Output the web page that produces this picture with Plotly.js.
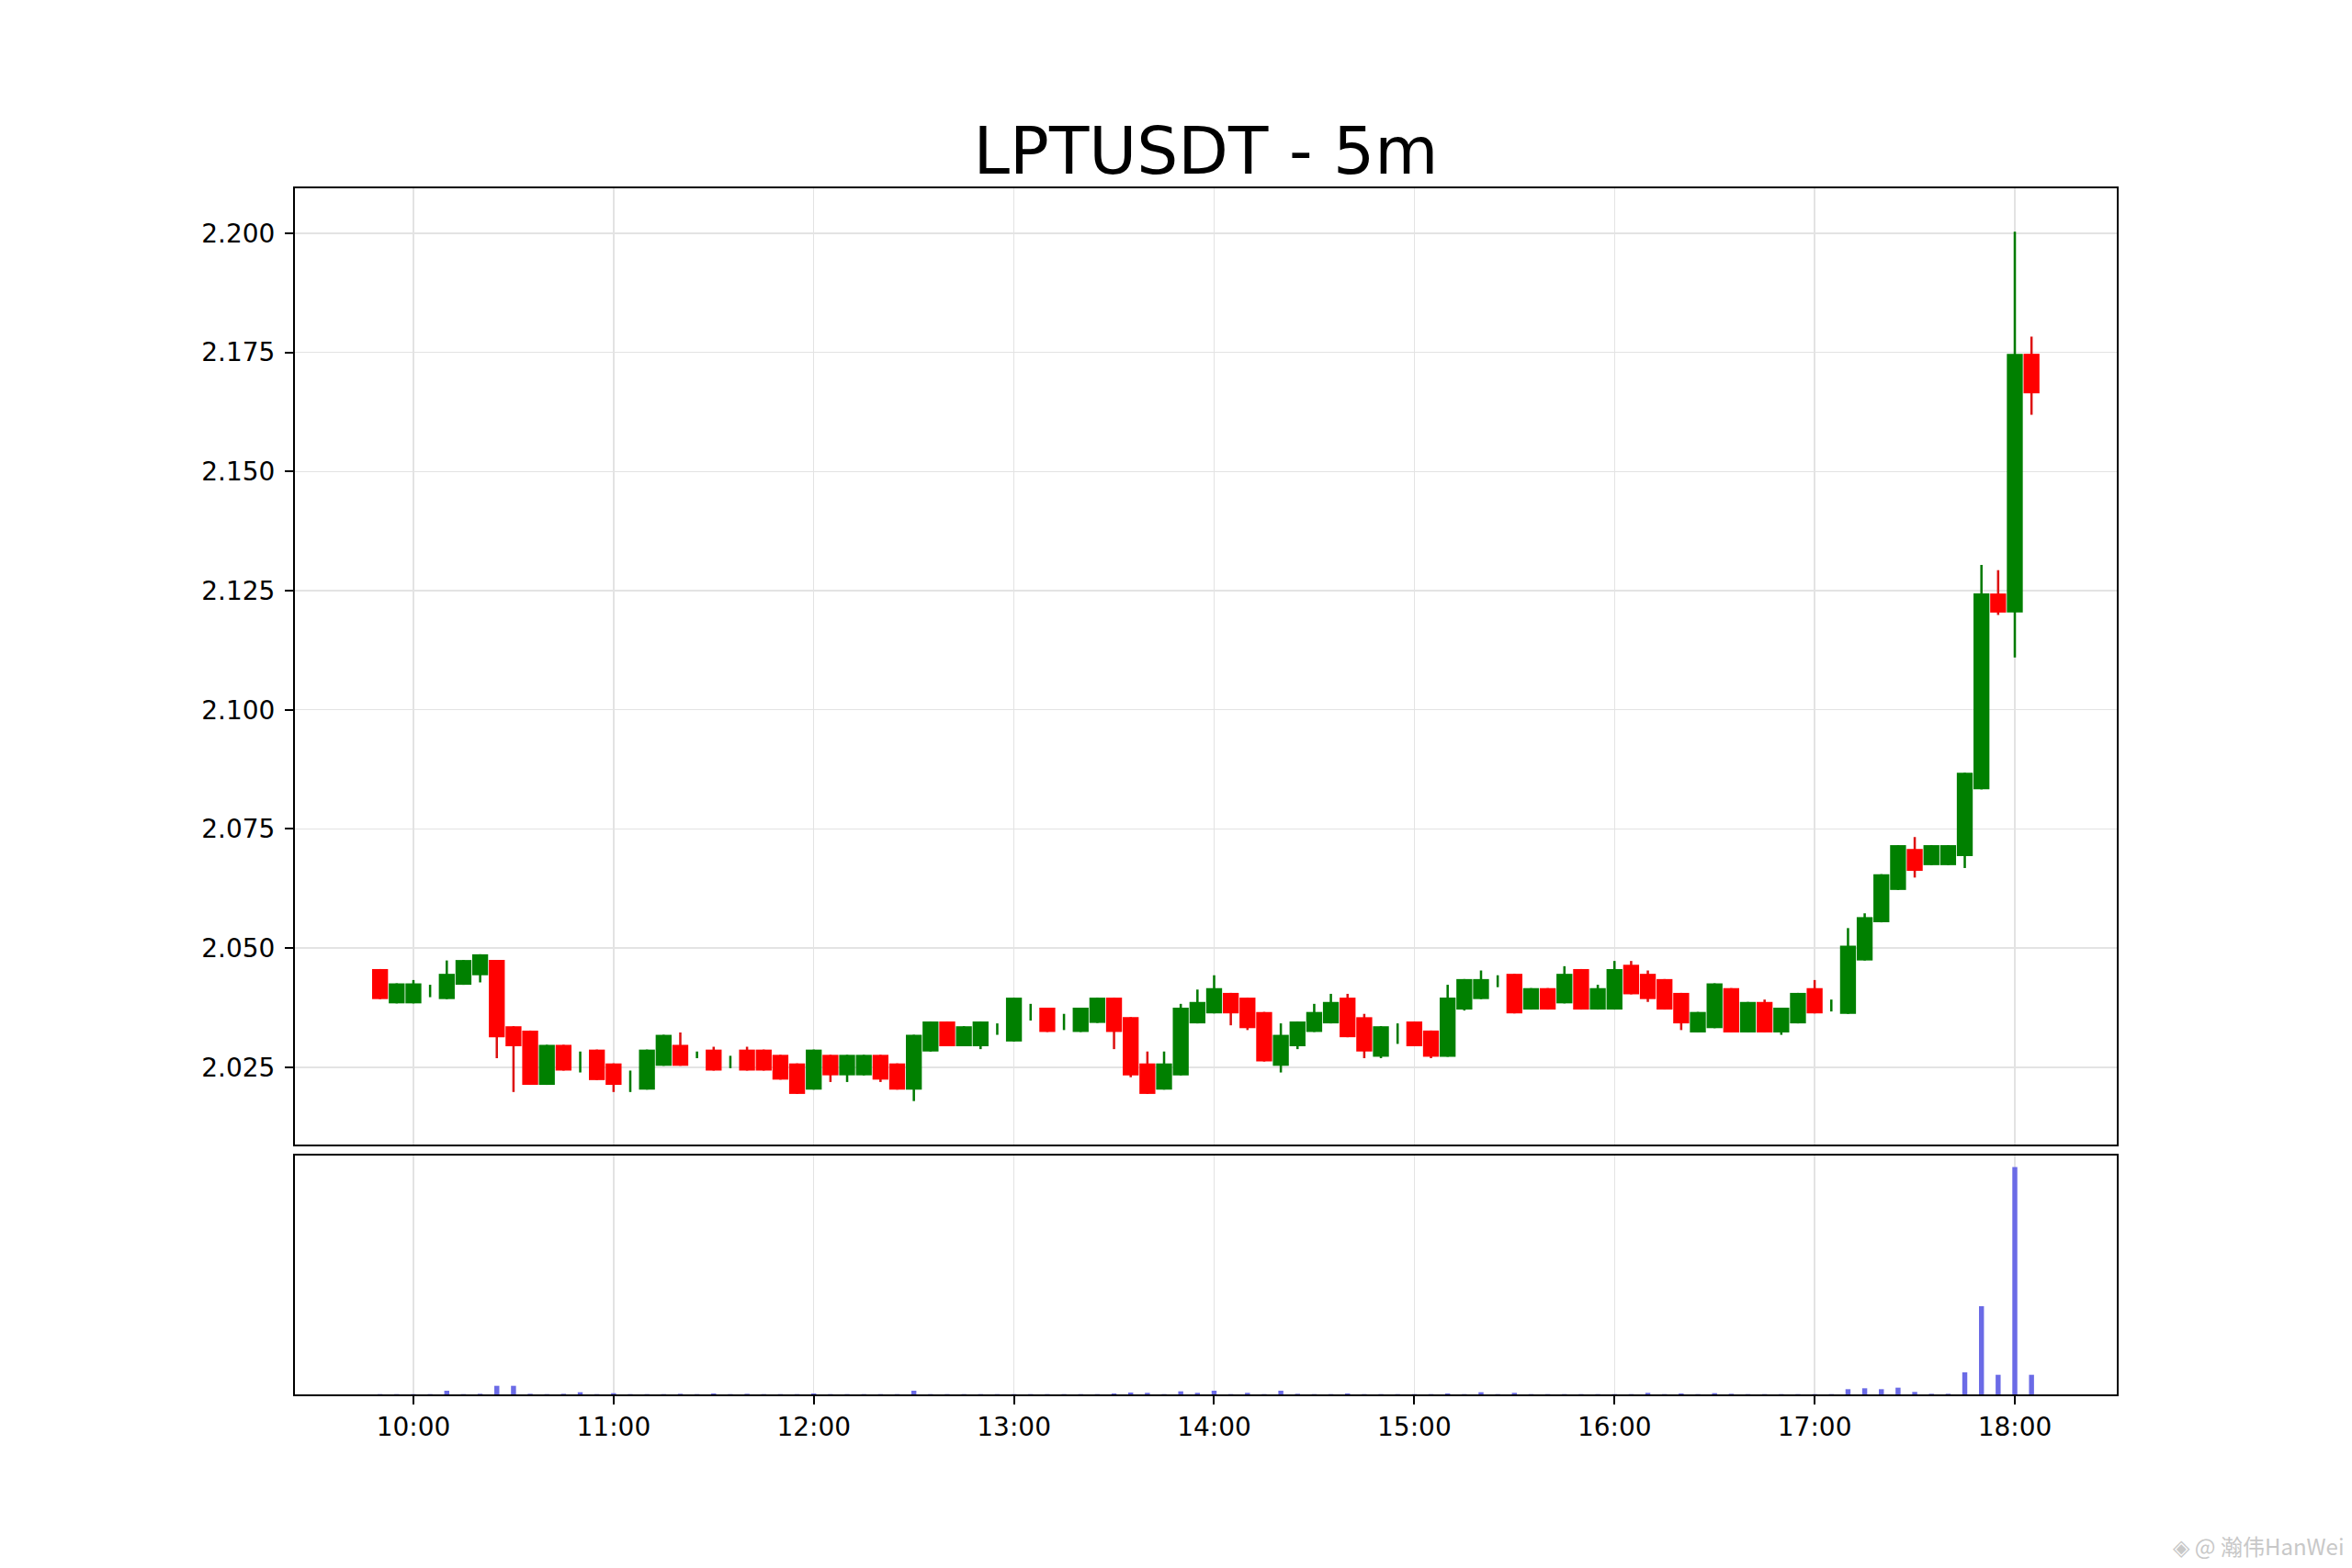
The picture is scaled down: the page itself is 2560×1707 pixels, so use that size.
<!DOCTYPE html>
<html>
<head>
<meta charset="utf-8">
<script src="https://cdn.plot.ly/plotly-3.0.1.min.js"></script>
<style>
  html, body { margin: 0; padding: 0; background: #fff; }
  #chart { width: 2560px; height: 1707px; }
</style>
</head>
<body>
<div id="chart"></div>
<script>
// 5m candles
const times = [
  "09:50", "09:55", "10:00", "10:05", "10:10", "10:15", "10:20", "10:25", "10:30", "10:35",
  "10:40", "10:45", "10:50", "10:55", "11:00", "11:05", "11:10", "11:15", "11:20", "11:25",
  "11:30", "11:35", "11:40", "11:45", "11:50", "11:55", "12:00", "12:05", "12:10", "12:15",
  "12:20", "12:25", "12:30", "12:35", "12:40", "12:45", "12:50", "12:55", "13:00", "13:05",
  "13:10", "13:15", "13:20", "13:25", "13:30", "13:35", "13:40", "13:45", "13:50", "13:55",
  "14:00", "14:05", "14:10", "14:15", "14:20", "14:25", "14:30", "14:35", "14:40", "14:45",
  "14:50", "14:55", "15:00", "15:05", "15:10", "15:15", "15:20", "15:25", "15:30", "15:35",
  "15:40", "15:45", "15:50", "15:55", "16:00", "16:05", "16:10", "16:15", "16:20", "16:25",
  "16:30", "16:35", "16:40", "16:45", "16:50", "16:55", "17:00", "17:05", "17:10", "17:15",
  "17:20", "17:25", "17:30", "17:35", "17:40", "17:45", "17:50", "17:55", "18:00", "18:05"
];

const opens = [
  2.0456, 2.0384, 2.0384, 2.0410, 2.0393, 2.0423, 2.0443, 2.0475, 2.0336, 2.0327,
  2.0213, 2.0297, 2.0260, 2.0287, 2.0258, 2.0220, 2.0203, 2.0253, 2.0297, 2.0275,
  2.0287, 2.0260, 2.0287, 2.0287, 2.0276, 2.0258, 2.0203, 2.0276, 2.0233, 2.0233,
  2.0276, 2.0258, 2.0203, 2.0283, 2.0346, 2.0294, 2.0294, 2.0330, 2.0304, 2.0365,
  2.0375, 2.0345, 2.0324, 2.0343, 2.0396, 2.0355, 2.0258, 2.0203, 2.0233, 2.0342,
  2.0363, 2.0406, 2.0396, 2.0366, 2.0253, 2.0294, 2.0324, 2.0342, 2.0396, 2.0355,
  2.0272, 2.0320, 2.0346, 2.0327, 2.0272, 2.0371, 2.0393, 2.0430, 2.0446, 2.0371,
  2.0416, 2.0384, 2.0456, 2.0371, 2.0371, 2.0465, 2.0446, 2.0435, 2.0406, 2.0323,
  2.0332, 2.0416, 2.0323, 2.0387, 2.0323, 2.0342, 2.0416, 2.0380, 2.0362, 2.0474,
  2.0554, 2.0622, 2.0708, 2.0674, 2.0674, 2.0693, 2.0833, 2.1244, 2.1204, 2.1747
];

const highs = [
  2.0456, 2.0426, 2.0433, 2.0423, 2.0474, 2.0475, 2.0487, 2.0475, 2.0336, 2.0327,
  2.0297, 2.0297, 2.0283, 2.0287, 2.0258, 2.0243, 2.0287, 2.0318, 2.0323, 2.0283,
  2.0293, 2.0274, 2.0293, 2.0287, 2.0276, 2.0258, 2.0287, 2.0276, 2.0276, 2.0276,
  2.0276, 2.0258, 2.0318, 2.0346, 2.0346, 2.0336, 2.0346, 2.0342, 2.0396, 2.0383,
  2.0375, 2.0362, 2.0375, 2.0396, 2.0396, 2.0355, 2.0283, 2.0283, 2.0383, 2.0413,
  2.0443, 2.0406, 2.0396, 2.0366, 2.0342, 2.0346, 2.0383, 2.0404, 2.0404, 2.0362,
  2.0336, 2.0342, 2.0346, 2.0327, 2.0423, 2.0435, 2.0453, 2.0443, 2.0446, 2.0416,
  2.0416, 2.0462, 2.0456, 2.0423, 2.0473, 2.0473, 2.0453, 2.0435, 2.0406, 2.0366,
  2.0426, 2.0416, 2.0387, 2.0392, 2.0375, 2.0406, 2.0433, 2.0392, 2.0542, 2.0573,
  2.0655, 2.0716, 2.0733, 2.0716, 2.0716, 2.0868, 2.1304, 2.1293, 2.2003, 2.1783
];

const lows = [
  2.0393, 2.0384, 2.0384, 2.0397, 2.0393, 2.0423, 2.0428, 2.0269, 2.0198, 2.0213,
  2.0213, 2.0243, 2.0239, 2.0223, 2.0198, 2.0198, 2.0203, 2.0253, 2.0253, 2.0269,
  2.0243, 2.0248, 2.0243, 2.0243, 2.0224, 2.0194, 2.0203, 2.0219, 2.0219, 2.0233,
  2.0219, 2.0203, 2.0179, 2.0283, 2.0294, 2.0294, 2.0288, 2.0318, 2.0304, 2.0348,
  2.0324, 2.0328, 2.0324, 2.0343, 2.0288, 2.0229, 2.0194, 2.0203, 2.0233, 2.0342,
  2.0363, 2.0338, 2.0328, 2.0262, 2.0239, 2.0288, 2.0324, 2.0342, 2.0313, 2.0269,
  2.0269, 2.0299, 2.0294, 2.0269, 2.0272, 2.0369, 2.0393, 2.0418, 2.0363, 2.0371,
  2.0371, 2.0384, 2.0371, 2.0371, 2.0371, 2.0403, 2.0387, 2.0371, 2.0328, 2.0323,
  2.0332, 2.0323, 2.0323, 2.0323, 2.0318, 2.0342, 2.0363, 2.0367, 2.0362, 2.0474,
  2.0554, 2.0622, 2.0648, 2.0674, 2.0674, 2.0668, 2.0833, 2.1199, 2.1110, 2.1619
];

const closes = [
  2.0393, 2.0426, 2.0426, 2.0410, 2.0446, 2.0475, 2.0487, 2.0313, 2.0294, 2.0213,
  2.0297, 2.0243, 2.0260, 2.0223, 2.0213, 2.0220, 2.0287, 2.0318, 2.0253, 2.0275,
  2.0243, 2.0260, 2.0243, 2.0243, 2.0224, 2.0194, 2.0287, 2.0233, 2.0276, 2.0276,
  2.0224, 2.0203, 2.0318, 2.0346, 2.0294, 2.0336, 2.0346, 2.0330, 2.0396, 2.0365,
  2.0324, 2.0345, 2.0375, 2.0396, 2.0324, 2.0233, 2.0194, 2.0258, 2.0375, 2.0387,
  2.0416, 2.0363, 2.0332, 2.0262, 2.0318, 2.0346, 2.0366, 2.0387, 2.0313, 2.0283,
  2.0336, 2.0320, 2.0294, 2.0272, 2.0396, 2.0435, 2.0435, 2.0430, 2.0363, 2.0416,
  2.0371, 2.0446, 2.0371, 2.0416, 2.0456, 2.0403, 2.0393, 2.0371, 2.0342, 2.0366,
  2.0426, 2.0323, 2.0387, 2.0323, 2.0375, 2.0406, 2.0363, 2.0380, 2.0505, 2.0565,
  2.0655, 2.0716, 2.0662, 2.0716, 2.0716, 2.0868, 2.1244, 2.1204, 2.1747, 2.1664
];

const volumes = [
  100, 100, 100, 100, 1200, 100, 200, 2800, 2800, 200,
  100, 200, 700, 100, 400, 100, 100, 100, 200, 100,
  300, 100, 200, 100, 100, 100, 300, 100, 100, 100,
  100, 100, 1200, 100, 100, 100, 100, 100, 100, 100,
  100, 100, 100, 100, 300, 600, 500, 100, 1000, 500,
  1200, 100, 500, 100, 1200, 200, 100, 100, 300, 100,
  100, 100, 100, 100, 300, 100, 700, 100, 500, 100,
  100, 100, 100, 100, 100, 100, 500, 100, 300, 100,
  400, 200, 100, 100, 100, 100, 100, 100, 1700, 2000,
  1700, 2200, 800, 200, 200, 7200, 28800, 6400, 74300, 6400
];

const day = "2024-01-01 ";
const xs = times.map(function (t) { return day + t; });

const up = closes.map(function (c, i) { return c >= opens[i]; });
const bodyColors = up.map(function (u) { return u ? "#008000" : "#ff0000"; });
const wickColors = up.map(function (u) { return u ? "#007a00" : "#dd1111"; });

const FIVE_MIN = 5 * 60 * 1000;

const wicks = {
  type: "bar",
  x: xs,
  base: lows,
  y: highs.map(function (h, i) { return h - lows[i]; }),
  width: 0.14 * FIVE_MIN,
  marker: { color: wickColors, line: { width: 0 } },
  xaxis: "x",
  yaxis: "y",
  hoverinfo: "skip",
  showlegend: false,
};

const bodies = {
  type: "bar",
  x: xs,
  base: opens.map(function (o, i) { return Math.min(o, closes[i]); }),
  y: opens.map(function (o, i) { return Math.abs(closes[i] - o); }),
  width: 0.955 * FIVE_MIN,
  marker: { color: bodyColors, line: { width: 0 } },
  xaxis: "x",
  yaxis: "y",
  hoverinfo: "skip",
  showlegend: false,
};

const vol = {
  type: "bar",
  x: xs,
  y: volumes,
  width: 0.3 * FIVE_MIN,
  marker: { color: "#6b6be6", line: { width: 0 } },
  xaxis: "x2",
  yaxis: "y2",
  hoverinfo: "skip",
  showlegend: false,
};

// matplotlib-style 5% margins on the price axis
const lo = Math.min.apply(null, lows);
const hi = Math.max.apply(null, highs);
const pad = (hi - lo) * 0.05;
const vmax = Math.max.apply(null, volumes);

const font = "DejaVu Sans, Liberation Sans, sans-serif";
const grid = "#e3e3e3";
const xRange = [day + "09:24:29", day + "18:30:34"];

const layout = {
  width: 2560,
  height: 1707,
  paper_bgcolor: "#ffffff",
  plot_bgcolor: "#ffffff",
  margin: { l: 321, r: 256, t: 205, b: 189, pad: 0 },
  font: { family: font, size: 28, color: "#000000" },
  barmode: "overlay",
  showlegend: false,
  title: {
    text: "LPTUSDT - 5m",
    font: { family: font, size: 71, color: "#000000" },
    x: 0.5,
    xref: "paper",
    xanchor: "center",
    y: 1 - 164 / 1707,
    yref: "container",
    yanchor: "middle",
  },
  xaxis: {
    type: "date",
    range: xRange,
    domain: [0, 1],
    anchor: "y",
    tick0: day + "00:00",
    dtick: 3600000,
    showticklabels: false,
    ticks: "",
    showgrid: true,
    gridcolor: grid,
    gridwidth: 1.5,
    showline: true,
    mirror: true,
    linecolor: "#000000",
    linewidth: 2,
    zeroline: false,
  },
  yaxis: {
    domain: [(1518 - 1246) / 1313, 1],
    anchor: "x",
    range: [lo - pad, hi + pad],
    tick0: 2.0,
    dtick: 0.025,
    tickformat: ".3f",
    ticks: "outside",
    ticklen: 9,
    tickwidth: 2,
    tickcolor: "#000000",
    ticklabelstandoff: 5,
    showgrid: true,
    gridcolor: grid,
    gridwidth: 1.5,
    showline: true,
    mirror: true,
    linecolor: "#000000",
    linewidth: 2,
    zeroline: false,
    tickfont: { family: font, size: 28, color: "#000000" },
  },
  xaxis2: {
    type: "date",
    range: xRange,
    domain: [0, 1],
    anchor: "y2",
    tick0: day + "00:00",
    dtick: 3600000,
    tickformat: "%H:%M",
    ticks: "outside",
    ticklen: 9,
    tickwidth: 2,
    tickcolor: "#000000",
    ticklabelstandoff: 0,
    showgrid: true,
    gridcolor: grid,
    gridwidth: 1.5,
    showline: true,
    mirror: true,
    linecolor: "#000000",
    linewidth: 2,
    zeroline: false,
    tickfont: { family: font, size: 28, color: "#000000" },
  },
  yaxis2: {
    domain: [0, (1518 - 1258) / 1313],
    anchor: "x2",
    range: [0, vmax * 1.05],
    showticklabels: false,
    ticks: "",
    showgrid: false,
    showline: true,
    mirror: true,
    linecolor: "#000000",
    linewidth: 2,
    zeroline: false,
  },
  annotations: [
    {
      text: "◈ @ 瀚伟HanWei",
      xref: "paper",
      yref: "paper",
      x: (2554 - 321) / 1983,
      y: (1518 - 1682) / 1313,
      xanchor: "right",
      yanchor: "middle",
      showarrow: false,
      font: { family: "Noto Sans CJK SC, DejaVu Sans, sans-serif", size: 24, color: "#c8c8c8" },
    },
  ],
};

Plotly.newPlot("chart", [wicks, bodies, vol], layout, { staticPlot: true, displayModeBar: false });
</script>
</body>
</html>
